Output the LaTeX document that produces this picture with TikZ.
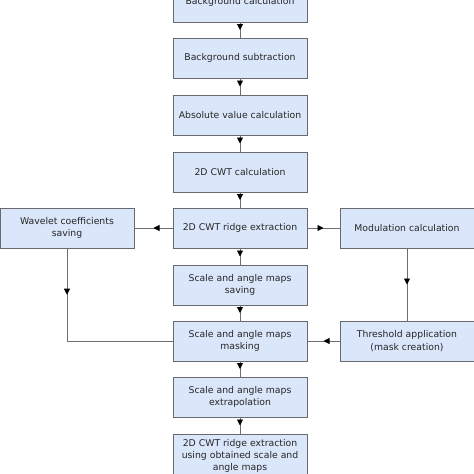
\documentclass[tikz,border=0pt]{standalone}
\usepackage{fontspec}
\setmainfont{DejaVu Sans}
\usetikzlibrary{arrows.meta,decorations.markings}
\definecolor{boxfill}{RGB}{218,230,250}
\definecolor{boxline}{RGB}{105,105,110}
\definecolor{conn}{RGB}{110,110,110}
\tikzset{
  stepbox/.style={draw=boxline, fill=boxfill, line width=0.9pt, minimum width=134pt, minimum height=40pt, align=center, inner sep=2pt, font=\fontsize{9.3}{12.3}\selectfont, text=black!85},
  midarrow/.style={draw=conn, line width=0.9pt, postaction={decorate}, decoration={markings, mark=at position 0.5 with {\arrow[black]{Triangle[length=6pt,width=6pt]}}}},
  plainline/.style={draw=conn, line width=0.9pt}
}
\begin{document}
\begin{tikzpicture}[x=1pt,y=-1pt]
\useasboundingbox (0,0) rectangle (474,474);
\fill[white] (0,0) rectangle (474,474);
\node[stepbox] (bg) at (240,2) {Background calculation};
\node[stepbox] (sub) at (240,58) {Background subtraction};
\node[stepbox] (abs) at (240,115) {Absolute value calculation};
\node[stepbox] (cwt) at (240,172) {2D CWT calculation};
\node[stepbox] (ridge) at (240,228) {2D CWT ridge extraction};
\node[stepbox] (wav) at (67,228) {Wavelet coefficients\\saving};
\node[stepbox] (mod) at (407,228) {Modulation calculation};
\node[stepbox] (save) at (240,285) {Scale and angle maps\\saving};
\node[stepbox] (mask) at (240,341) {Scale and angle maps\\masking};
\node[stepbox] (thr) at (407,341) {Threshold application\\(mask creation)};
\node[stepbox] (extra) at (240,397) {Scale and angle maps\\extrapolation};
\node[stepbox, minimum height=44pt] (final) at (240,456) {2D CWT ridge extraction\\using obtained scale and\\angle maps};
\draw[midarrow] (bg) -- (sub);
\draw[midarrow] (sub) -- (abs);
\draw[midarrow] (abs) -- (cwt);
\draw[midarrow] (cwt) -- (ridge);
\draw[midarrow] (ridge) -- (wav);
\draw[midarrow] (ridge) -- (mod);
\draw[midarrow] (ridge) -- (save);
\draw[midarrow] (save) -- (mask);
\draw[midarrow] (mask) -- (extra);
\draw[midarrow] (extra) -- (final);
\draw[midarrow] (thr) -- (mask);
\draw[midarrow] (mod.south) -- (thr.north -| mod.south);
\coordinate (corner) at (wav.south |- mask.west);
\draw[midarrow] (wav.south) -- (corner);
\draw[plainline] (corner) -- (mask.west);
\end{tikzpicture}
\end{document}
